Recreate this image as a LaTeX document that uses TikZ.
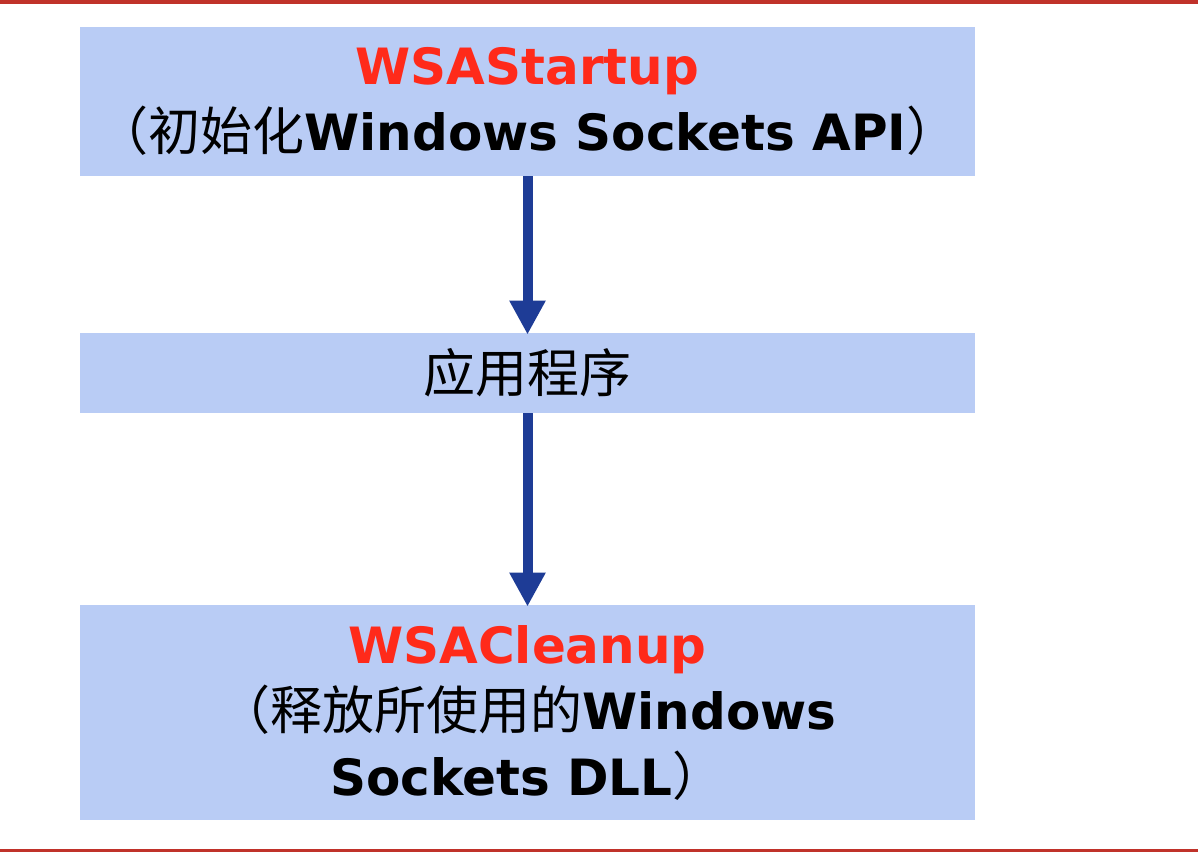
\documentclass[tikz,border=0pt]{standalone}
\usepackage{fontspec}
\setmainfont{DejaVu Sans}
\newfontfamily\cjk{Noto Sans CJK SC}
\usetikzlibrary{arrows.meta}
\definecolor{boxfill}{HTML}{B9CCF5}
\definecolor{arrowblue}{HTML}{1E3C96}
\definecolor{titlered}{HTML}{FF2A1A}
\definecolor{rulered}{HTML}{C0322A}
\tikzset{
  box/.style={fill=boxfill, inner sep=0pt, align=center, font=\fontsize{25}{33}\selectfont\bfseries},
  flow/.style={draw=arrowblue, line width=5pt, -{Triangle[length=17pt,width=17pt]}, shorten >=-1pt},
  title/.style={text=titlered}
}
\begin{document}
\begin{tikzpicture}[x=0.5pt,y=-0.5pt]
\useasboundingbox (0,0) rectangle (1198,857);
\fill[white] (0,0) rectangle (1198,857);
\draw[rulered, line width=2pt] (0,2) -- (1198,2);
\draw[rulered, line width=1.5pt] (0,850) -- (1198,850);
\node[box, minimum width=447.5pt, minimum height=74.5pt] (start) at (527.5,101.5)
  {\textcolor{titlered}{WSAStartup}\\{\cjk\mdseries\fontsize{26}{33}\selectfont （初始化}Windows Sockets API{\cjk\mdseries\fontsize{26}{33}\selectfont ）}};
\node[box, minimum width=447.5pt, minimum height=40pt] (app) at (527.5,373)
  {{\cjk\mdseries\fontsize{26}{33}\selectfont 应用程序}};
\node[box, minimum width=447.5pt, minimum height=107.5pt] (clean) at (527.5,712.5)
  {\textcolor{titlered}{WSACleanup}\\{\cjk\mdseries\fontsize{26}{33}\selectfont （释放所使用的}Windows\\Sockets DLL{\cjk\mdseries\fontsize{26}{33}\selectfont ）}};
\draw[flow] (start) -- (app);
\draw[flow] (app) -- (clean);
\end{tikzpicture}
\end{document}
